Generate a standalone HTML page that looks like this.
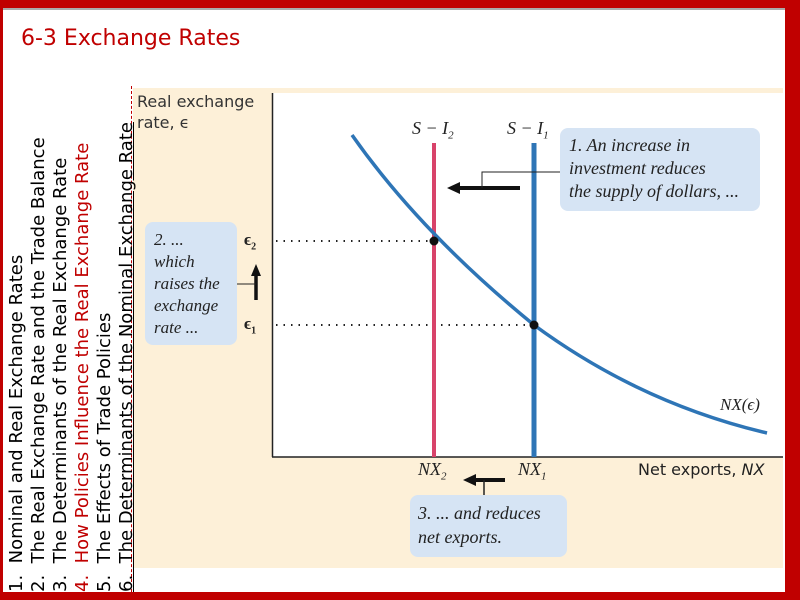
<!DOCTYPE html>
<html><head><meta charset="utf-8"><style>
body{margin:0;width:800px;height:600px;position:relative;background:#fff;overflow:hidden;font-family:"DejaVu Sans","Liberation Sans",sans-serif}
.a{position:absolute}
.list{position:absolute;left:0;top:592px;width:520px;transform-origin:0 0;transform:rotate(-90deg);font-size:18px;line-height:22px;padding-top:6px;color:#000}
.list div{white-space:nowrap}
.it{font-family:"Liberation Serif",serif;font-style:italic;color:#222;font-size:16px;line-height:20px}
.box{position:absolute;background:#d6e4f4;border-radius:8px}
</style></head><body>
<div class="a" style="left:0;top:0;width:800px;height:8px;background:#c00000"></div>
<div class="a" style="left:0;top:8px;width:800px;height:2px;background:#aaa"></div>
<div class="a" style="left:0;top:0;width:3px;height:600px;background:#c00000"></div>
<div class="a" style="left:785px;top:0;width:15px;height:600px;background:#c00000"></div>
<div class="a" style="left:0;top:592px;width:800px;height:8px;background:#c00000"></div>
<div class="a" style="left:21px;top:26px;font-size:22px;color:#c00000">6-3 Exchange Rates</div>

<div class="a" style="left:133px;top:88px;width:650px;height:480px;background:#fdf0d8"></div>
<div class="a" style="left:272px;top:93px;width:511px;height:364px;background:#fff"></div>
<div class="a" style="left:131px;top:86px;height:506px;border-left:1px dashed #c00000"></div>

<svg class="a" style="left:0;top:0" width="800" height="600">
<line x1="272.5" y1="93" x2="272.5" y2="457" stroke="#222" stroke-width="1.5"/>
<line x1="272" y1="457" x2="783" y2="457" stroke="#222" stroke-width="1.5"/>
<line x1="276" y1="241" x2="432" y2="241" stroke="#222" stroke-width="2" stroke-dasharray="1.5 6"/>
<line x1="276" y1="325" x2="532" y2="325" stroke="#222" stroke-width="2" stroke-dasharray="1.5 6"/>
<line x1="434" y1="143" x2="434" y2="457" stroke="#d8436a" stroke-width="4"/>
<line x1="534" y1="143" x2="534" y2="457" stroke="#2e75b6" stroke-width="5"/>
<path d="M352,135 Q420,232 534,325 Q640,403 767,433" fill="none" stroke="#2e75b6" stroke-width="3.5"/>
<circle cx="434" cy="241" r="4.5" fill="#111"/>
<circle cx="534" cy="325" r="4.5" fill="#111"/>
<line x1="520" y1="188" x2="458" y2="188" stroke="#111" stroke-width="4"/>
<polygon points="447,188 460,182 460,194" fill="#111"/>
<polyline points="482,188 482,172 560,172" fill="none" stroke="#222" stroke-width="1"/>
<line x1="256" y1="300" x2="256" y2="274" stroke="#111" stroke-width="3.5"/>
<polygon points="256,264 251,276 261,276" fill="#111"/>
<line x1="237" y1="284" x2="256" y2="284" stroke="#222" stroke-width="1"/>
<line x1="505" y1="480" x2="475" y2="480" stroke="#111" stroke-width="4"/>
<polygon points="463,480 476,474 476,486" fill="#111"/>
<line x1="484" y1="480" x2="484" y2="495" stroke="#222" stroke-width="1.5"/>
</svg>

<div class="a" style="left:137px;top:91px;font-family:'DejaVu Sans',sans-serif;font-size:16px;line-height:21px;color:#333">Real exchange<br>rate, ϵ</div>
<div class="a it" style="left:412px;top:118px;font-size:18px">S − I<sub style="font-size:11px">2</sub></div>
<div class="a it" style="left:507px;top:118px;font-size:18px">S − I<sub style="font-size:11px">1</sub></div>
<div class="box" style="left:560px;top:128px;width:200px;height:83px"></div>
<div class="a it" style="left:569px;top:134px;font-size:18px;line-height:23px">1. An increase in<br>investment reduces<br>the supply of dollars, ...</div>
<div class="box" style="left:145px;top:222px;width:92px;height:123px"></div>
<div class="a it" style="left:154px;top:229px;font-size:17px;line-height:22px">2. ...<br>which<br>raises the<br>exchange<br>rate ...</div>
<div class="a it" style="left:244px;top:230px;font-style:normal;font-weight:bold;font-size:17px">ϵ<sub style="font-size:10px">2</sub></div>
<div class="a it" style="left:244px;top:314px;font-style:normal;font-weight:bold;font-size:17px">ϵ<sub style="font-size:10px">1</sub></div>
<div class="a it" style="left:720px;top:395px;font-size:17px">NX(ϵ)</div>
<div class="a it" style="left:418px;top:459px;font-size:18px">NX<sub style="font-size:11px">2</sub></div>
<div class="a it" style="left:518px;top:459px;font-size:18px">NX<sub style="font-size:11px">1</sub></div>
<div class="a" style="left:638px;top:460px;font-family:'DejaVu Sans',sans-serif;font-size:16px;color:#222">Net exports, <i>NX</i></div>
<div class="box" style="left:410px;top:495px;width:157px;height:62px"></div>
<div class="a it" style="left:418px;top:501px;font-size:18px;line-height:24px">3. ... and reduces<br>net exports.</div>

<div class="list">
<div>1.&nbsp;&nbsp;Nominal and Real Exchange Rates</div>
<div>2.&nbsp;&nbsp;The Real Exchange Rate and the Trade Balance</div>
<div>3.&nbsp;&nbsp;The Determinants of the Real Exchange Rate</div>
<div style="color:#c00000">4.&nbsp;&nbsp;How Policies Influence the Real Exchange Rate</div>
<div>5.&nbsp;&nbsp;The Effects of Trade Policies</div>
<div style="text-decoration:underline">6.&nbsp;&nbsp;The Determinants of the Nominal Exchange Rate</div>
</div>
</body></html>
